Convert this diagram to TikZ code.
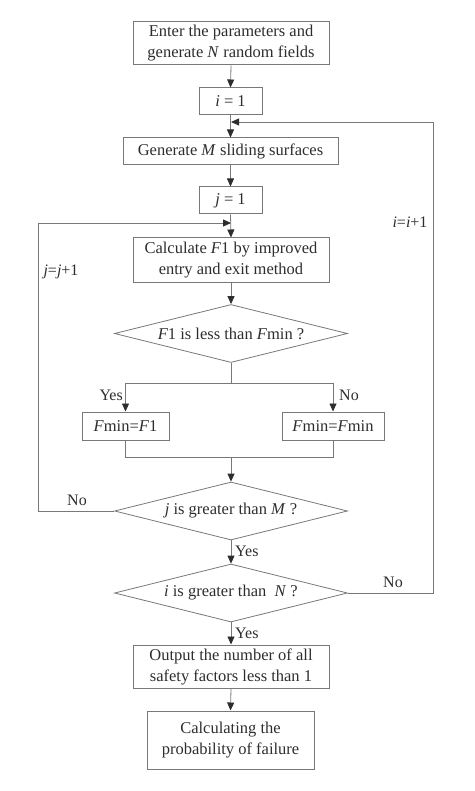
\documentclass[tikz,border=0pt]{standalone}
\usepackage{fontspec}
\setmainfont{Liberation Serif}
\usetikzlibrary{arrows.meta,shapes.geometric}
\definecolor{lc}{RGB}{120,120,120}
\definecolor{tc}{RGB}{45,45,45}
\begin{document}
\begin{tikzpicture}[x=1pt,y=-1pt,
  every node/.style={text=tc,font=\fontsize{16.5}{21}\selectfont},
  box/.style={draw=lc,line width=1pt,rectangle,inner sep=0pt,align=center},
  dia/.style={draw=lc,line width=0.8pt,diamond,aspect=4,inner sep=0pt,minimum width=233pt,minimum height=58pt},
  conn/.style={draw=lc,line width=0.8pt},
  arr/.style={conn,-{Triangle[length=8pt,width=7pt,fill=tc,color=tc]}},
  lab/.style={font=\fontsize{16}{18}\selectfont,inner sep=0pt}
]
\useasboundingbox (0,0) rectangle (474,791);
\node[box,minimum width=196pt,minimum height=43pt] (b1) at (231,43.5) {Enter the parameters and\\generate \textit{N} random fields};
\node[box,minimum width=63pt,minimum height=27pt] (b2) at (230.5,101.5) {\textit{i} = 1};
\node[box,minimum width=215pt,minimum height=27pt] (b3) at (230.5,151.5) {Generate \textit{M} sliding surfaces};
\node[box,minimum width=63pt,minimum height=27pt] (b4) at (230.5,200.5) {\textit{j} = 1};
\node[box,minimum width=196pt,minimum height=44pt] (b5) at (231,260) {Calculate \textit{F}1 by improved\\entry and exit method};
\node[dia] (d1) at (231,333.5) {\textit{F}1 is less than \textit{F}min ?};
\node[box,minimum width=87pt,minimum height=28pt] (b6) at (125.5,426) {\textit{F}min=\textit{F}1};
\node[box,minimum width=102pt,minimum height=28pt] (b7) at (333,426) {\textit{F}min=\textit{F}min};
\node[dia] (d2) at (231,511) {\textit{j} is greater than \textit{M} ?};
\node[dia] (d3) at (231,593) {\textit{i} is greater than \ \textit{N} ?};
\node[box,minimum width=196pt,minimum height=43pt] (b8) at (231,666.5) {Output the number of all\\safety factors less than 1};
\node[box,minimum width=167pt,minimum height=58pt] (b9) at (230.5,740) {Calculating the\\probability of failure};

\coordinate (ji) at (231,122);
\coordinate (jj) at (231,223);
\coordinate (s1) at (231,383);
\coordinate (s2) at (231,457);
\coordinate (ri) at (433,593);
\coordinate (rt) at (433,122);
\coordinate (lj) at (38,511);
\coordinate (lt) at (38,223);

\draw[arr] (b1.south) -- (b2.north);
\draw[arr] (b2.south) -- (b3.north);
\draw[arr] (b3.south) -- (b4.north);
\draw[arr] (b4.south) -- (b5.north);
\draw[arr] (b5.south) -- (d1.north);
\draw[conn] (d1.south) -- (s1);
\draw[arr] (s1) -| (b6.north);
\draw[arr] (s1) -| (b7.north);
\draw[conn] (b6.south) |- (s2);
\draw[conn] (b7.south) |- (s2);
\draw[arr] (s2) -- (d2.north);
\draw[arr] (d2.south) -- (d3.north);
\draw[arr] (d3.south) -- (b8.north);
\draw[arr] (b8.south) -- (b9.north);
\draw[arr] (d3.east) -- (ri) -- (rt) -- (ji);
\draw[arr] (d2.west) -- (lj) -- (lt) -- (jj);

\node[lab] (l1) at (410,222) {\textit{i}=\textit{i}+1};
\node[lab] (l2) at (61,272) {\textit{j}=\textit{j}+1};
\node[lab,anchor=east] (l3) at (123,395) {Yes};
\node[lab,anchor=west] (l4) at (339,395) {No};
\node[lab] (l5) at (77,500) {No};
\node[lab,anchor=west] (l6) at (235,551) {Yes};
\node[lab] (l7) at (393,582) {No};
\node[lab,anchor=west] (l8) at (235,633) {Yes};
\end{tikzpicture}
\end{document}
